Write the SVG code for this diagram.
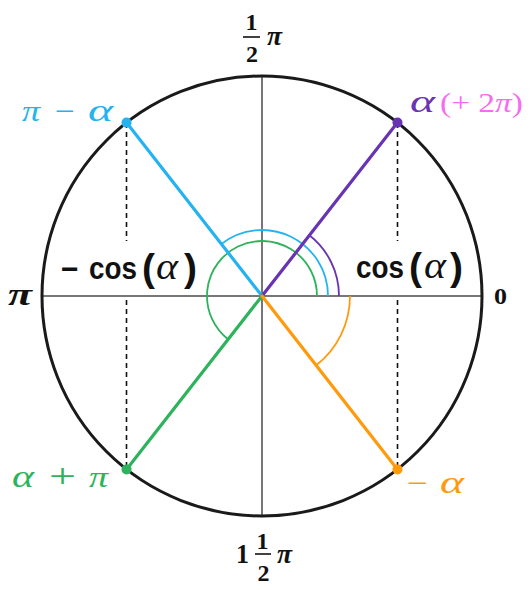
<svg xmlns="http://www.w3.org/2000/svg" width="532" height="590" viewBox="0 0 532 590">
<style>
.ax{stroke:#4a4a4a;stroke-width:1.5;fill:none}
.circ{stroke:#1a1a1a;stroke-width:3;fill:none}
.dash{stroke:#111;stroke-width:1.6;stroke-dasharray:5 4;fill:none}
.ray{stroke-width:3.2;fill:none;stroke-linecap:round}
.arc{stroke-width:1.8;fill:none}
.m{font-family:"Liberation Serif","DejaVu Serif",serif;font-style:italic}
.r{font-family:"Liberation Serif","DejaVu Serif",serif}
.b{font-family:"Liberation Sans","DejaVu Sans",sans-serif;font-weight:bold}
.n{font-family:"Liberation Serif","DejaVu Serif",serif;font-weight:bold}
.w{font-weight:normal}
.cy{fill:#24b3f0}.pu{fill:#6834b3}.gr{fill:#2db35b}.or{fill:#ff9a0d}.pk{fill:#f56cf0}.k{fill:#111}
</style>
<g id="axes">
<line class="ax" x1="42" y1="296" x2="482" y2="296"/>
<line class="ax" x1="262" y1="76" x2="262" y2="516"/>
</g>
<g id="unit-circle">
<circle class="circ" cx="262" cy="296" r="220"/>
</g>
<g id="projections">
<line class="dash" x1="126.5" y1="123" x2="126.5" y2="241"/>
<line class="dash" x1="126.5" y1="300" x2="126.5" y2="469"/>
<line class="dash" x1="397.5" y1="123" x2="397.5" y2="241"/>
<line class="dash" x1="397.5" y1="300" x2="397.5" y2="469"/>
</g>
<g id="angle-arcs">
<path class="arc" stroke="#2db35b" d="M317,296 A55,55 0 1 0 228.1,339.3"/>
<path class="arc" stroke="#24b3f0" d="M328,296 A66,66 0 0 0 221.4,244"/>
<path class="arc" stroke="#6834b3" d="M339,296 A77,77 0 0 0 309.4,235.3"/>
<path class="arc" stroke="#ff9a0d" d="M350,296 A88,88 0 0 1 316.2,365.3"/>
</g>
<g id="connectors">
<line class="ray" stroke="#24b3f0" x1="262" y1="296" x2="126.5" y2="122.6"/>
<line class="ray" stroke="#6834b3" x1="262" y1="296" x2="397.5" y2="122.6"/>
<line class="ray" stroke="#2db35b" x1="262" y1="296" x2="126.5" y2="469.4"/>
<line class="ray" stroke="#ff9a0d" x1="262" y1="296" x2="397.5" y2="469.4"/>
</g>
<g id="node-pi-minus-alpha">
<circle class="cy" cx="126.5" cy="122.6" r="5"/>
<text class="m cy" x="22" y="121" font-size="30" textLength="18" lengthAdjust="spacingAndGlyphs">π</text>
<text class="r cy" x="55" y="121" font-size="30" textLength="20" lengthAdjust="spacingAndGlyphs">−</text>
<text class="m cy" x="88" y="121" font-size="32" textLength="25" lengthAdjust="spacingAndGlyphs">α</text>
</g>
<g id="node-alpha">
<circle class="pu" cx="397.5" cy="122.6" r="5"/>
<text class="m pu" x="410" y="112" font-size="32" textLength="25" lengthAdjust="spacingAndGlyphs">α</text>
<text class="r pk" x="440" y="112" font-size="28" textLength="83" lengthAdjust="spacingAndGlyphs">(+ 2<tspan class="m">π</tspan>)</text>
</g>
<g id="node-alpha-plus-pi">
<circle class="gr" cx="126.5" cy="469.4" r="5"/>
<text class="m gr" x="12" y="487" font-size="32" textLength="22" lengthAdjust="spacingAndGlyphs">α</text>
<text class="r gr" x="49" y="487" font-size="34" textLength="27" lengthAdjust="spacingAndGlyphs">+</text>
<text class="m gr" x="89" y="487" font-size="30" textLength="19" lengthAdjust="spacingAndGlyphs">π</text>
</g>
<g id="node-minus-alpha">
<circle class="or" cx="397.5" cy="469.4" r="5"/>
<text class="r or" x="407" y="493" font-size="30" textLength="21" lengthAdjust="spacingAndGlyphs">−</text>
<text class="m or" x="440" y="493" font-size="32" textLength="24" lengthAdjust="spacingAndGlyphs">α</text>
</g>
<g id="label-neg-cos">
<text class="b k" y="279" font-size="30"><tspan x="61">−</tspan><tspan x="89" font-size="31" textLength="48" lengthAdjust="spacingAndGlyphs">cos</tspan><tspan x="142" y="281" font-size="39">(</tspan><tspan x="156" y="279" class="m w" font-size="37" textLength="22" lengthAdjust="spacingAndGlyphs">α</tspan><tspan x="184" y="281" font-size="39">)</tspan></text>
</g>
<g id="label-cos">
<text class="b k" y="278" font-size="31"><tspan x="356" textLength="48" lengthAdjust="spacingAndGlyphs">cos</tspan><tspan x="409" y="280" font-size="39">(</tspan><tspan x="424" y="278" class="m w" font-size="37" textLength="22" lengthAdjust="spacingAndGlyphs">α</tspan><tspan x="450" y="280" font-size="39">)</tspan></text>
</g>
<g id="label-half-pi">
<text class="n k" x="251.5" y="30" font-size="24" text-anchor="middle">1</text>
<line x1="243" y1="37" x2="260" y2="37" stroke="#111" stroke-width="1.6"/>
<text class="n k" x="252" y="62" font-size="24" text-anchor="middle">2</text>
<text class="m k" x="267" y="45" font-size="28" font-weight="bold" textLength="15" lengthAdjust="spacingAndGlyphs">π</text>
</g>
<g id="label-three-half-pi">
<text class="n k" x="236" y="563" font-size="27" textLength="13" lengthAdjust="spacingAndGlyphs">1</text>
<text class="n k" x="262.5" y="549" font-size="24" text-anchor="middle">1</text>
<line x1="255" y1="554" x2="271" y2="554" stroke="#111" stroke-width="1.6"/>
<text class="n k" x="263.5" y="581" font-size="24" text-anchor="middle">2</text>
<text class="m k" x="277" y="563" font-size="28" font-weight="bold" textLength="15" lengthAdjust="spacingAndGlyphs">π</text>
</g>
<g id="label-pi">
<text class="m k" x="8" y="305" font-size="32" font-weight="bold" textLength="24" lengthAdjust="spacingAndGlyphs">π</text>
</g>
<g id="label-zero">
<text class="n k" x="494" y="304" font-size="24" textLength="13" lengthAdjust="spacingAndGlyphs">0</text>
</g>
</svg>
